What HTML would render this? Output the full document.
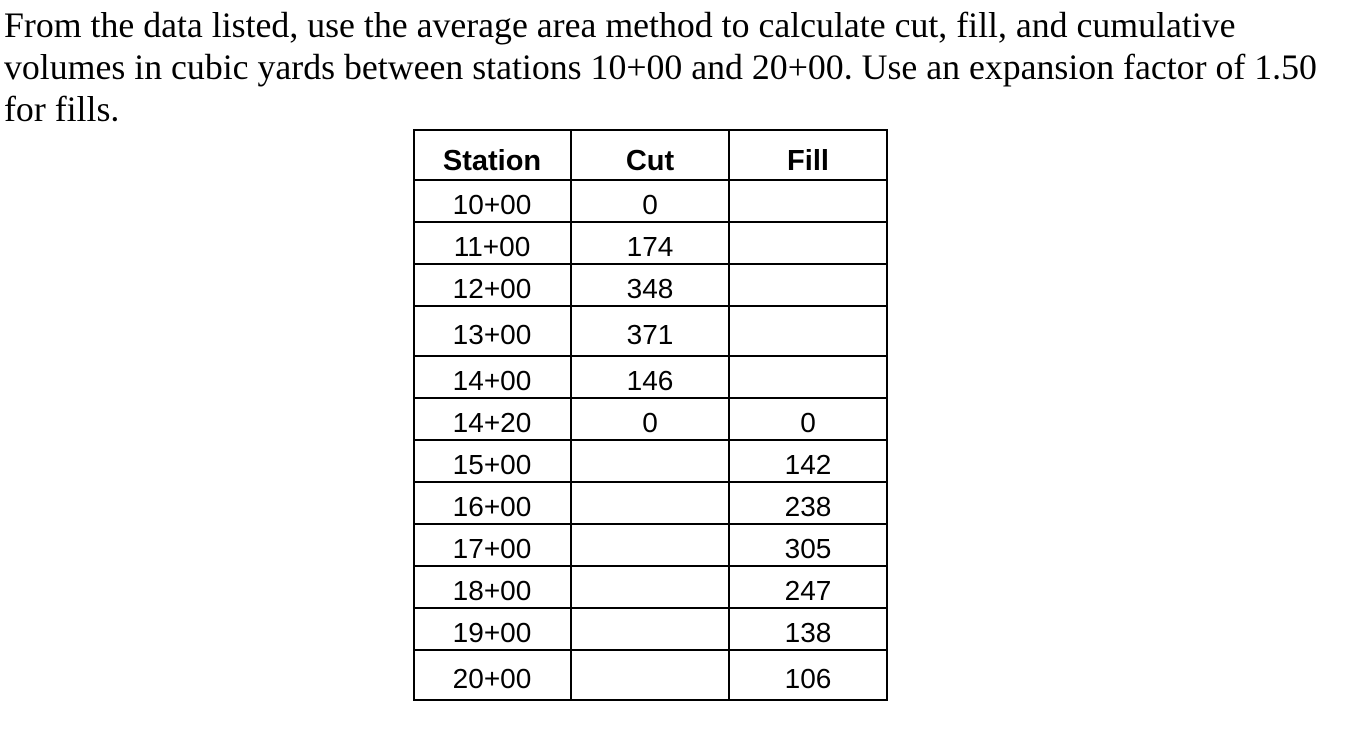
<!DOCTYPE html>
<html><head><style>
body{margin:0;width:1353px;height:732px;background:#fff;position:relative;overflow:hidden}
.p{position:absolute;left:4px;top:4px;font-family:"Liberation Serif",serif;font-size:35.8px;line-height:42px;color:#000;white-space:nowrap}
.h{position:absolute;background:#000;height:2px;left:413px;width:475px}
.v{position:absolute;background:#000;width:2px;top:129px;height:572px}
.c{position:absolute;font-family:"Liberation Sans",sans-serif;font-size:28px;color:#000;text-align:center;width:156px}
.b{font-weight:bold;font-size:29px}
</style></head><body>
<div class="p">From the data listed, use the average area method to calculate cut, fill, and cumulative<br>volumes in cubic yards between stations 10+00 and 20+00. Use an expansion factor of 1.50<br>for fills.</div>
<div class="h" style="top:129px"></div>
<div class="h" style="top:179px"></div>
<div class="h" style="top:221px"></div>
<div class="h" style="top:263px"></div>
<div class="h" style="top:305px"></div>
<div class="h" style="top:355px"></div>
<div class="h" style="top:397px"></div>
<div class="h" style="top:439px"></div>
<div class="h" style="top:481px"></div>
<div class="h" style="top:523px"></div>
<div class="h" style="top:565px"></div>
<div class="h" style="top:607px"></div>
<div class="h" style="top:649px"></div>
<div class="h" style="top:699px"></div>
<div class="v" style="left:413px"></div>
<div class="v" style="left:570px"></div>
<div class="v" style="left:728px"></div>
<div class="v" style="left:886px"></div>
<div id="t"></div>
<script>
var rows=[[130,180,"Station","Cut","Fill",1],[180,222,"10+00","0",""],[222,264,"11+00","174",""],[264,306,"12+00","348",""],[306,356,"13+00","371",""],[356,398,"14+00","146",""],[398,440,"14+20","0","0"],[440,482,"15+00","","142"],[482,524,"16+00","","238"],[524,566,"17+00","","305"],[566,608,"18+00","","247"],[608,650,"19+00","","138"],[650,700,"20+00","","106"]];
var xs=[414,572,730],h="";
rows.forEach(function(r){var mid=(r[0]+r[1])/2+(r[5]?6:4);for(var i=0;i<3;i++){h+='<div class="c'+(r[5]?' b':'')+'" style="left:'+xs[i]+'px;top:'+(mid-17)+'px;line-height:34px">'+r[2+i]+'</div>';}});
document.getElementById("t").innerHTML=h;
</script>
</body></html>
